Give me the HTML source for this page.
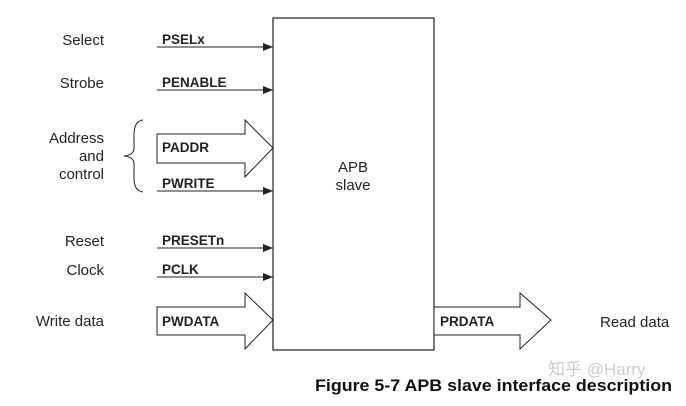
<!DOCTYPE html>
<html><head><style>
body{margin:0;background:#fff;}
svg{display:block;font-family:"Liberation Sans",Arial,sans-serif;}
</style></head><body>
<svg width="686" height="406" viewBox="0 0 686 406" xmlns="http://www.w3.org/2000/svg">
<defs><marker id="a" markerWidth="10" markerHeight="8" refX="10" refY="4" orient="auto" markerUnits="userSpaceOnUse"><path d="M0,0 L10,4 L0,8 Z" fill="#222"/></marker></defs>
<rect x="273" y="18" width="161" height="332" fill="#fff" stroke="#222" stroke-width="1.2"/>
<text x="353" y="172" font-size="15" text-anchor="middle" fill="#222">APB</text>
<text x="353" y="190" font-size="15" text-anchor="middle" fill="#222">slave</text>
<g stroke="#222" stroke-width="1" fill="none">
<line x1="157" y1="47" x2="273" y2="47" marker-end="url(#a)"/>
<line x1="157" y1="90" x2="273" y2="90" marker-end="url(#a)"/>
<line x1="157" y1="191" x2="273" y2="191" marker-end="url(#a)"/>
<line x1="157" y1="248" x2="273" y2="248" marker-end="url(#a)"/>
<line x1="157" y1="277" x2="273" y2="277" marker-end="url(#a)"/>
<path d="M157,134 H245 V120 L273,148 L245,177 V163 H157 Z" fill="#fff"/>
<path d="M157,307 H245 V293 L273,320 L245,349 V335 H157 Z" fill="#fff"/>
<path d="M434,307 H520 V293 L551,320 L520,349 V335 H434 Z" fill="#fff"/>
<path d="M143,120 Q134,121 134,135 V148 Q134,155 124,156 Q134,157 134,164 V178 Q134,191 143,192"/>
</g>
<g font-size="15" fill="#222" text-anchor="end">
<text x="104" y="45">Select</text>
<text x="104" y="88">Strobe</text>
<text x="104" y="143">Address</text>
<text x="104" y="161">and</text>
<text x="104" y="179">control</text>
<text x="104" y="246">Reset</text>
<text x="104" y="275">Clock</text>
<text x="104" y="326">Write data</text>
</g>
<text x="600" y="327" font-size="15" fill="#222">Read data</text>
<g font-size="13.5" font-weight="bold" fill="#222">
<text x="162" y="44">PSELx</text>
<text x="162" y="87">PENABLE</text>
<text x="162" y="152">PADDR</text>
<text x="162" y="188">PWRITE</text>
<text x="162" y="245">PRESETn</text>
<text x="162" y="274">PCLK</text>
<text x="162" y="326">PWDATA</text>
<text x="440" y="326">PRDATA</text>
</g>
<text x="548" y="375" font-size="17" fill="#ccc" font-family="'Liberation Sans','Noto Sans CJK SC',sans-serif">知乎 @Harry</text>
<text x="672" y="391" font-size="17" font-weight="bold" fill="#111" text-anchor="end" textLength="357" lengthAdjust="spacingAndGlyphs">Figure 5-7 APB slave interface description</text>
</svg>
</body></html>
